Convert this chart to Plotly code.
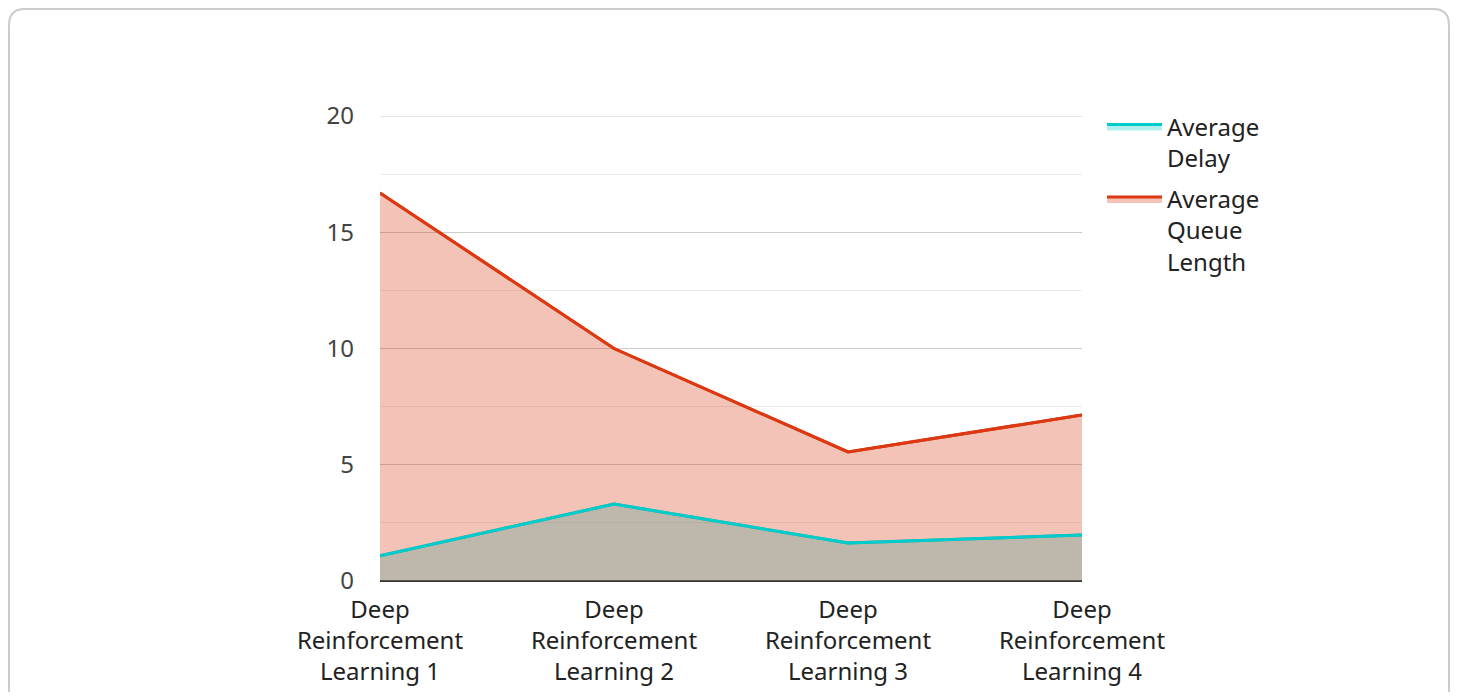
import plotly.graph_objects as go

categories = ["Deep Reinforcement Learning 1", "Deep Reinforcement Learning 2",
              "Deep Reinforcement Learning 3", "Deep Reinforcement Learning 4"]
tick_labels = ["Deep<br>Reinforcement<br>Learning 1", "Deep<br>Reinforcement<br>Learning 2",
               "Deep<br>Reinforcement<br>Learning 3", "Deep<br>Reinforcement<br>Learning 4"]
average_delay = [1.08, 3.31, 1.63, 1.98]
average_queue = [16.69, 10.0, 5.55, 7.14]
y_ticks = [0, 5, 10, 15, 20]

# page has an 8px body margin
W, H = 1442, 684
L, R, T, B = 372, 368, 108, 111
pw, ph = W - L - R, H - T - B

CYAN = "#00cccc"
RED = "#dc3912"

fig = go.Figure()
xs = list(range(len(categories)))
fig.add_trace(go.Scatter(x=xs, y=average_delay, name="Average<br>Delay", mode="lines",
                         legendgroup="d",
                         line=dict(color=CYAN, width=3), fill="tozeroy",
                         fillcolor="rgba(0,204,204,0.3)", hoverinfo="skip"))
fig.add_trace(go.Scatter(x=xs, y=average_queue, name="Average<br>Queue<br>Length", mode="lines",
                         legendgroup="q",
                         line=dict(color=RED, width=3), fill="tozeroy",
                         fillcolor="rgba(220,57,18,0.3)", hoverinfo="skip"))
# lines drawn on top of all fills
fig.add_trace(go.Scatter(x=xs, y=average_delay, mode="lines", showlegend=False,
                         legendgroup="d",
                         line=dict(color=CYAN, width=3), hoverinfo="skip"))
fig.add_trace(go.Scatter(x=xs, y=average_queue, mode="lines", showlegend=False,
                         legendgroup="q",
                         line=dict(color=RED, width=3), hoverinfo="skip"))

# top gridline (plotly omits the one at the range edge)
fig.add_shape(type="line", xref="paper", yref="y", x0=0, x1=1,
              y0=y_ticks[-1], y1=y_ticks[-1], line=dict(color="#cccccc", width=1),
              layer="below")

# rounded card border (figure pixel coords -> paper)
def P(px, py):
    a = (px - L) / pw
    b = (H - B - py) / ph
    return f"{a:.5f},{b:.5f}"

x0, x1, y0, y1 = 1, 1441, 1, 720
r = 16
path = (f"M {P(x0, y1)} L {P(x0, y0 + r)} Q {P(x0, y0)} {P(x0 + r, y0)} "
        f"L {P(x1 - r, y0)} Q {P(x1, y0)} {P(x1, y0 + r)} L {P(x1, y1)}")
fig.add_shape(type="path", path=path, xref="paper", yref="paper",
              line=dict(color="#cccccc", width=2), layer="below")

fig.update_layout(
    width=W, height=H,
    margin=dict(l=L, r=R, t=T, b=B, pad=0, autoexpand=False),
    paper_bgcolor="white", plot_bgcolor="white",
    font=dict(family="Noto Sans, Open Sans, sans-serif", size=24, color="#444444"),
    showlegend=True,
    legend=dict(x=1.0285, y=1.025, xanchor="left", yanchor="top",
                font=dict(size=24, color="#222222"), valign="top",
                traceorder="grouped", tracegroupgap=7, itemwidth=55,
                bgcolor="rgba(0,0,0,0)"),
    xaxis=dict(range=[0, 3], tickvals=xs, ticktext=tick_labels, showgrid=False,
               zeroline=False, showline=False, ticks="", ticklabelstandoff=12,
               automargin=False,
               tickfont=dict(size=24, color="#222222"), fixedrange=True),
    yaxis=dict(range=[0, 20], tickvals=y_ticks, ticks="", showgrid=True,
               gridcolor="#cccccc", gridwidth=1, zeroline=True, zerolinecolor="#333333",
               zerolinewidth=2, showline=False, ticklabelstandoff=25,
               automargin=False,
               minor=dict(dtick=2.5, showgrid=True, gridcolor="#ebebeb", gridwidth=1),
               tickfont=dict(size=24, color="#444444"), fixedrange=True),
)

fig.write_html("out.html")
